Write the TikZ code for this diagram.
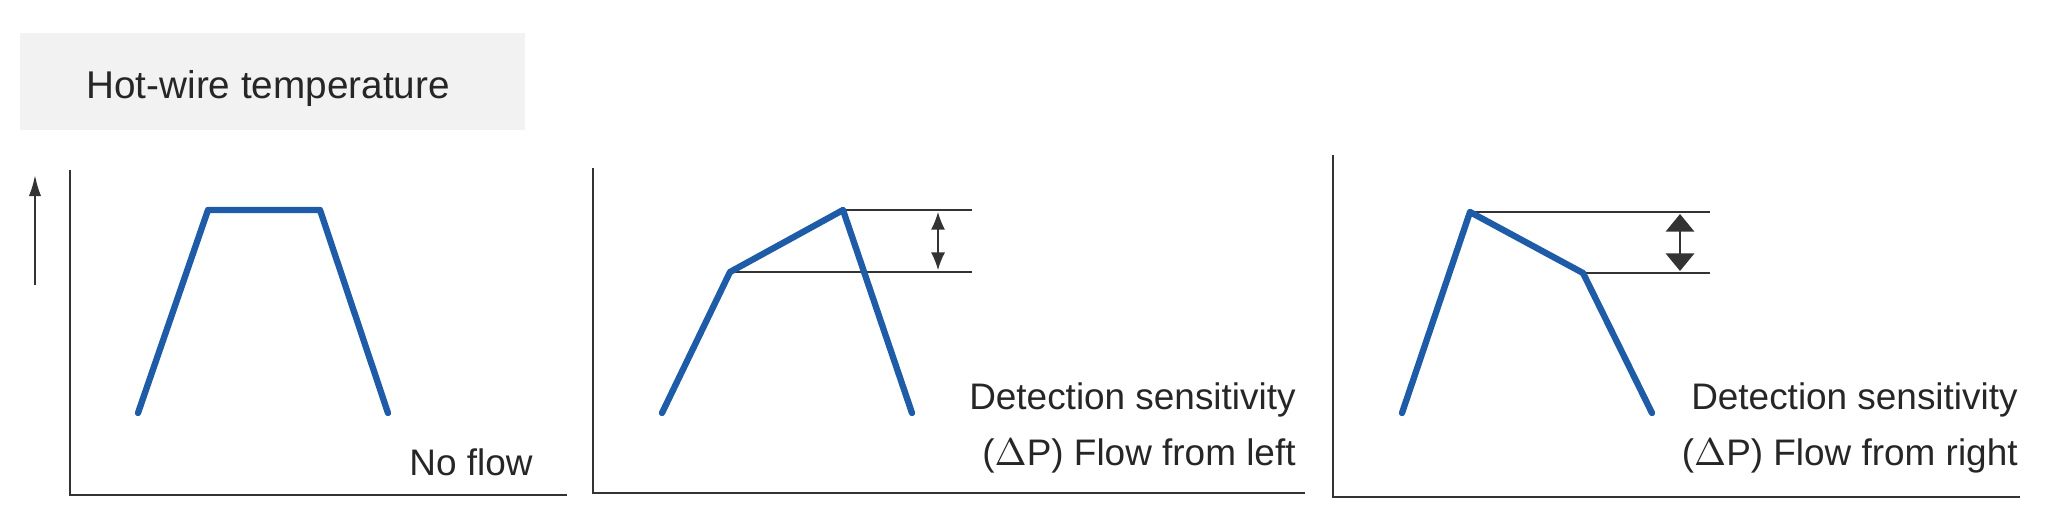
\documentclass[tikz,border=0pt]{standalone}
\usepackage{fontspec}
\setmainfont{Liberation Sans}
\usetikzlibrary{arrows.meta}

\begin{document}
\begin{tikzpicture}[x=0.01cm, y=-0.01cm,
    axis/.style={draw=black!80, line width=0.6pt},
    curve/.style={color={rgb,255:red,31;green,92;blue,168}, line width=1.8pt, line cap=round, line join=round},
    guide/.style={draw=black!80, line width=0.4pt},
    lbl/.style={font=\fontsize{10.5}{16}\selectfont, text=black!85, align=right, anchor=east}]
  \useasboundingbox (0,0) rectangle (2048,523);

  % title box
  \fill[black!5] (20,33) rectangle (525,130);
  \node[font=\fontsize{11}{13}\selectfont, anchor=west, text=black!85] (title) at (74,88) {Hot-wire temperature};
  \coordinate (up0) at (35,285);
  \coordinate (up1) at (35,175);
  \draw[axis, -{Latex[length=6pt,width=3.5pt]}] (up0) -- (up1);

  % no flow
  \draw[axis] (70,170) -- (70,495) -- (567,495);
  \draw[curve] (138,413) -- (208,210) -- (320,210) -- (388,413);
  \node[lbl] (none) at (545,462) {No flow};

  % flow from left
  \draw[axis] (593,168) -- (593,493) -- (1305,493);
  \coordinate (la) at (730,272);
  \coordinate (lb) at (843,210);
  \draw[guide] (lb) -- (972,210);
  \draw[guide] (la) -- (972,272);
  \draw[curve] (662,413) -- (la) -- (lb) -- (912,413);
  \coordinate (lt) at (938,212);
  \coordinate (lu) at (938,270);
  \draw[guide, {Latex[length=5pt,width=4pt]}-{Latex[length=5pt,width=4pt]}] (lt) -- (lu);
  \node[lbl] (left) at (1308,428) {Detection sensitivity\\($\Delta$P) Flow from left};

  % flow from right
  \draw[axis] (1333,155) -- (1333,497) -- (2020,497);
  \coordinate (ra) at (1470,212);
  \coordinate (rb) at (1583,273);
  \draw[guide] (ra) -- (1710,212);
  \draw[guide] (rb) -- (1710,273);
  \draw[curve] (1402,413) -- (ra) -- (rb) -- (1652,413);
  \coordinate (rt) at (1680,214);
  \coordinate (ru) at (1680,271);
  \draw[guide, line width=0.8pt, {Triangle[length=5pt,width=8pt]}-{Triangle[length=5pt,width=8pt]}] (rt) -- (ru);
  \node[lbl] (right) at (2030,428) {Detection sensitivity\\($\Delta$P) Flow from right};
\end{tikzpicture}
\end{document}
